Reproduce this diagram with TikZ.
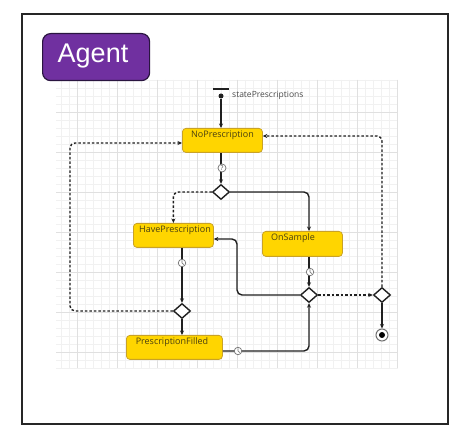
\documentclass[tikz,border=0pt]{standalone}
\usepackage{fontspec}
\setmainfont{Open Sans}
\newfontfamily\arialfont{Liberation Sans}
\usetikzlibrary{shapes.geometric,arrows.meta,calc}
\definecolor{agentpurple}{HTML}{7030A0}
\definecolor{agentborder}{HTML}{2A1540}
\definecolor{stategold}{HTML}{FFD500}
\definecolor{stateborder}{HTML}{C9A227}
\definecolor{statetext}{HTML}{4A4010}
\definecolor{gridminor}{HTML}{F1F1F1}
\definecolor{gridmajor}{HTML}{E0E0E0}
\definecolor{edgecol}{HTML}{202020}
\definecolor{iconcol}{HTML}{707070}
\tikzset{
  statebox/.style={rectangle, rounded corners=3.5pt, fill=stategold, draw=stateborder, line width=0.8pt, anchor=north west, inner sep=0pt},
  statelabel/.style={font=\fontsize{9}{10}\selectfont, text=statetext, inner sep=0pt},
  choice/.style={diamond, draw=edgecol, fill=white, line width=1.4pt, minimum width=17pt, minimum height=15pt, inner sep=0pt},
  edge/.style={draw=edgecol, line width=1.4pt, rounded corners=5pt, -{Stealth[length=4.5pt,width=4pt]}},
  dashedge/.style={edge, dash pattern=on 2.5pt off 2pt},
  clockicon/.style={circle, draw=iconcol, fill=white, line width=0.7pt, minimum size=7.5pt, inner sep=0pt,
    path picture={\draw[iconcol, line width=0.6pt] ($(path picture bounding box.center)+(0,-2.6)$) -- (path picture bounding box.center) -- ++(1.8,1.6);}},
  qicon/.style={circle, draw=iconcol, fill=white, line width=0.7pt, minimum size=8pt, inner sep=0pt, font=\fontsize{6.5}{6.5}\selectfont, text=black!75},
}
\begin{document}
\begin{tikzpicture}[x=1pt,y=-1pt]
\useasboundingbox (0,0) rectangle (474,443);
\fill[white] (0,0) rectangle (474,443);
% grid
\foreach \x in {61,69,...,397} \draw[gridminor, line width=0.5pt] (\x,80) -- (\x,368);
\foreach \y in {80,88,...,368} \draw[gridminor, line width=0.5pt] (56,\y) -- (398,\y);
\foreach \x in {77,117,...,397} \draw[gridmajor, line width=0.6pt] (\x,80) -- (\x,368);
\foreach \y in {112,152,...,352} \draw[gridmajor, line width=0.6pt] (56,\y) -- (398,\y);
% frame
\draw[line width=1.5pt, draw=black!85] (22,14) rectangle (448,424);
% agent
\node[rectangle, rounded corners=8pt, fill=agentpurple, draw=agentborder, line width=1.2pt, minimum width=107pt, minimum height=47pt, anchor=north west, inner sep=0pt] (agent) at (42,33) {};
\node[font=\arialfont\fontsize{27}{27}\selectfont, text=white, inner sep=0pt] (agenttext) at (93,56) {Agent};
% initial
\draw[line width=1.6pt, edgecol] (213,89) -- (229,89);
\node[circle, fill=edgecol, minimum size=5pt, inner sep=0pt] (init) at (221,96) {};
\node[anchor=west, font=\fontsize{8.5}{9}\selectfont, text=black!70, inner sep=0pt] (initlabel) at (232,95.5) {statePrescriptions};
% states
\node[statebox, minimum width=80pt, minimum height=24pt] (NP) at (182,128) {};
\node[statelabel] (NPl) at (222.5,135) {NoPrescription};
\node[statebox, minimum width=80pt, minimum height=24pt] (HP) at (133,223) {};
\node[statelabel] (HPl) at (175,230.5) {HavePrescription};
\node[statebox, minimum width=80pt, minimum height=25pt] (OS) at (262,231) {};
\node[statelabel] (OSl) at (293,238.5) {OnSample};
\node[statebox, minimum width=96pt, minimum height=24pt] (PF) at (126,335) {};
\node[statelabel] (PFl) at (172,342) {PrescriptionFilled};
% choices
\node[choice] (D1) at (221,192) {};
\node[choice] (D2) at (309,295) {};
\node[choice] (D3) at (182,311) {};
\node[choice] (D4) at (382,295) {};
% final
\node[circle, draw=iconcol, fill=white, line width=1pt, minimum size=12pt, inner sep=0pt] (final) at (382,335) {};
\node[circle, fill=black, minimum size=6pt, inner sep=0pt] (finaldot) at (final.center) {};
% connectors
\draw[edge] (init) -- (init |- NP.north);
\draw[edge] (D1 |- NP.south) -- (D1.north);
\draw[edge] (D1.east) -| (309,231);
\draw[dashedge] (D1.west) -| (HP.north);
\draw[edge] (D3 |- HP.south) -- (D3.north);
\draw[dashedge] (D3.west) -- (70,311) -- (70,143) -- (NP.west |- 0,143);
\draw[edge] (D3.south) -- (D3 |- PF.north);
\draw[edge] (PF.east |- 0,351) -- (309,351) -- (D2.south);
\draw[edge] (D2 |- OS.south) -- (D2.north);
\draw[edge] (D2.west) -- (237,295) -- (237,239) -- (HP.east |- 0,239);
\draw[dashedge] (D2.east) -- (D4.west);
\draw[dashedge] (D4.north) -- (382,136) -- (NP.east |- 0,136);
\draw[edge] (D4.south) -- (final.north);
% icons
\node[qicon] (q1) at (222,168) {?};
\node[clockicon] (c1) at (182,263) {};
\node[clockicon] (c2) at (310,272) {};
\node[clockicon] (c3) at (238,351) {};
\end{tikzpicture}
\end{document}
